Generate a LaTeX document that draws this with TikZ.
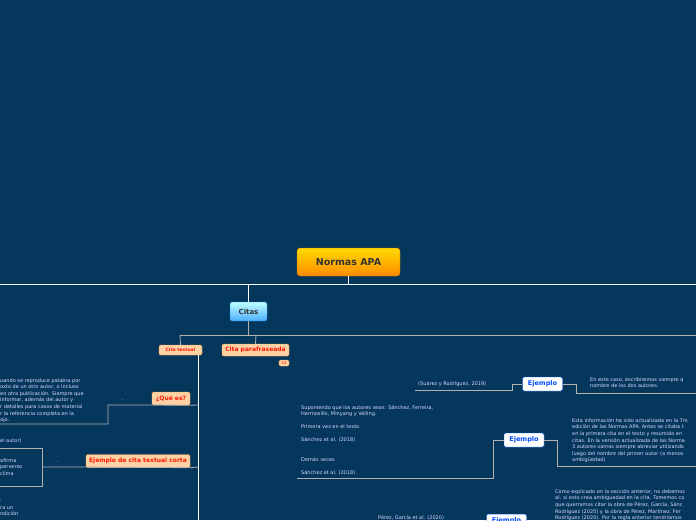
\documentclass[tikz,border=0pt]{standalone}
\usepackage{fontspec}
\setmainfont{DejaVu Sans}
\begin{document}
\begin{tikzpicture}[x=1pt,y=-1pt,
  txt/.style={anchor=north west,inner sep=0,font=\fontsize{5}{6.6}\selectfont,text=white!85!blue,align=left},
  orangebox/.style={draw=orange!70!white,fill=orange!35!white,rounded corners=1.5,text=red!80!orange,font=\bfseries\fontsize{6}{7}\selectfont,inner sep=0,minimum height=12},
  ejbox/.style={draw=blue!60!cyan,fill=white,rounded corners=1.5,text=blue!70!cyan,font=\bfseries\fontsize{6.5}{7}\selectfont,inner sep=0,minimum height=14,minimum width=40},
  wl/.style={draw=white,line width=0.9},
  gl/.style={draw=gray!60!white,line width=0.8}]
\fill[fill={rgb,255:red,5;green,54;blue,92}] (0,0) rectangle (696,520);
\useasboundingbox (0,0) rectangle (696,520);
% root
\node[draw=orange!80!black,top color=yellow!70!orange,bottom color=orange!90!yellow,rounded corners=3,minimum width=103,minimum height=28,font=\bfseries\fontsize{9.5}{10}\selectfont,text=black!80] (root) at (348.5,262) {Normas APA};
\coordinate (rj) at (348.5,284);
\coordinate (hl) at (0,284); \coordinate (hr) at (696,284);
\draw[wl] (root.south) -- (rj); \draw[wl] (hl) -- (hr);
\node[draw=cyan!60!blue,top color=cyan!25!white,bottom color=cyan!55!blue!70!white,rounded corners=2,minimum width=37,minimum height=19,font=\bfseries\fontsize{7}{8}\selectfont,text=black!80] (citas) at (248.5,311.5) {Citas};
\draw[wl] (citas.north) -- (248.5,284);
\coordinate (cj) at (248.5,335); \coordinate (cl) at (180,335); \coordinate (cr) at (696,335);
\draw[gl] (citas.south) -- (cj); \draw[gl] (cl) -- (cr);
\node[orangebox,minimum width=43,minimum height=10,font=\bfseries\fontsize{4.5}{5}\selectfont] (ct) at (180.5,350) {Cita textual};
\node[orangebox,minimum width=67] (cp) at (255.5,350) {Cita parafraseada};
\node[orangebox,minimum width=10,minimum height=6,font=\fontsize{4}{4}\selectfont] (b18) at (284,363) {18};
\draw[gl] (cl) -- (ct.north); \draw[gl] (256,335) -- (cp.north);
\coordinate (tb) at (198,520);
\draw[wl] (198,355) -- (tb);
% Que es
\node[orangebox,minimum width=38,minimum height=13] (qe) at (171,398.5) {¿Qué es?};
\draw[gl] (198,405) -- (qe.south east) -- (141,405) -- (108,405) -- (108,424) -- (0,424);
\node[txt,anchor=base west] (dot1) at (122,400) {.};
\node[txt] (t1) at (0,378) {uando se reproduce palabra por\\oxto de un otro autor, o incluso\\en otra publicación. Siempre que\\informar, además del autor y\\r detalles para casos de material\\r la referencia completa en la\\ajo.};
% Ejemplo corta
\node[orangebox,minimum width=104,minimum height=13] (ec) at (138,461) {Ejemplo de cita textual corta};
\draw[gl] (198,467) -- (ec.south east) -- (75,467) -- (42,467);
\draw[gl] (0,448) -- (42,448) -- (42,486) -- (0,486);
\node[txt,anchor=base west] (dot2) at (57,462) {.};
\node[txt] (t2) at (0,438) {el autor)};
\node[txt] (t3) at (0,458) {afirma\\perverso\\ clima};
\node[txt] (t4) at (0,500) {:\\ra un\\ndición};
% Ejemplo 1
\node[ejbox] (e1) at (542.5,384) {Ejemplo};
\draw[gl] (415,390) -- (512,390) -- (512,384) -- (e1.west);
\draw[gl] (e1.east) -- (576,384) -- (576,393) -- (696,393);
\node[txt] (s1) at (418,381) {(Suárez y Rodríguez, 2019)};
\node[txt] (s2) at (590,377) {En este caso, escribiremos siempre q\\nombre de los dos autores.};
% Ejemplo 2
\node[ejbox] (e2) at (524,440) {Ejemplo};
\draw[gl] (e2.west) -- (493,440) -- (493,478) -- (297,478);
\draw[gl] (e2.east) -- (557,440) -- (557,466) -- (696,466);
\node[txt] (s3) at (301,405) {Suponiendo que los autores sean: Sánchez, Ferreira,\\Hermosillo, Minyang y Velling.};
\node[txt] (s4) at (301,424) {Primera vez en el texto};
\node[txt] (s5) at (301,437) {Sánchez et al. (2018)};
\node[txt] (s6) at (301,457) {Demás veces};
\node[txt] (s7) at (301,470) {Sánchez et al. (2018)};
\node[txt] (s8) at (572,418) {Esta información ha sido actualizada en la 7m\\edición de las Normas APA. Antes se citaba t\\en la primera cita en el texto y resumido en\\citas. En la versión actualizada de las Norma\\3 autores vamos siempre abreviar utilizando\\luego del nombre del primer autor (a menos\\ambigüedad)};
% Ejemplo 3
\node[ejbox,anchor=north] (e3) at (506.5,514) {Ejemplo};
\node[txt] (s9) at (378,515) {Pérez, García et al. (2020)};
\node[txt] (s10) at (555,489) {Como explicado en la sección anterior, no debemos\\al. si esto crea ambiguedad en la cita. Tomemos co\\que querramos citar la obra de Pérez, García, Sánc\\Rodríguez (2020) y la obra de Pérez, Martínez, Fer\\Rodríguez (2020). Por la regla anterior tendríamos};
\end{tikzpicture}
\end{document}
